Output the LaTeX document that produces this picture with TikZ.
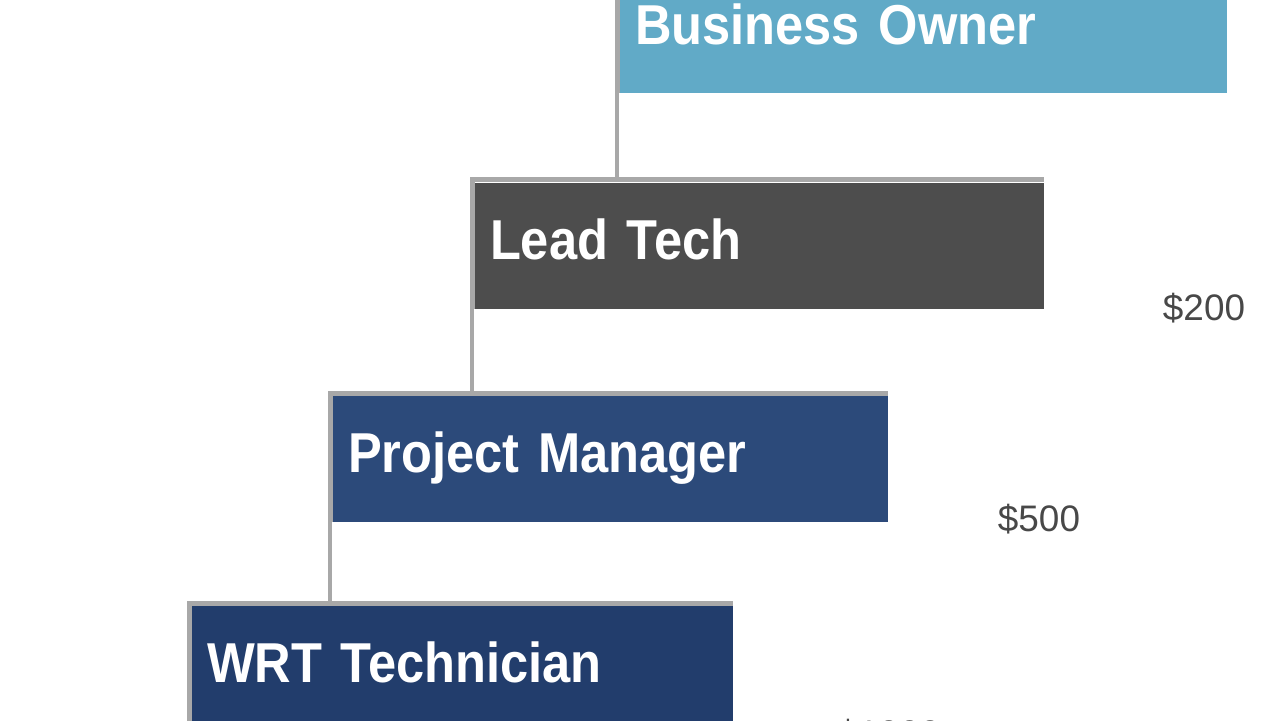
\documentclass[tikz,border=0pt]{standalone}
\usepackage{fontspec}
\setmainfont{Liberation Sans}
\newfontfamily\tierfont{Liberation Sans}[FakeStretch=0.9]
\newcommand\tiertext{\tierfont\bfseries\fontsize{32}{36}\selectfont\spaceskip=0.15em\relax}
\usetikzlibrary{calc}

\begin{document}
\begin{tikzpicture}[tier/.style={
      rectangle,
      draw=none,
      text=white,
      align=left,
      inner xsep=0.3cm,
      minimum height=2.52cm,
      text height=0.85cm,
      text depth=0.3cm,
      font=\tiertext
    },
    frame/.style={-,line width=0.1cm,lgray},
    link/.style={-,line width=0.08cm,lgray},
    cost/.style={draw=none,text=dgray,font=\fontsize{21}{24}\selectfont}]

\definecolor{lgray}{RGB}{168,168,168}
\definecolor{dgray}{RGB}{72,72,72}
\definecolor{sky}{RGB}{97,170,199}
\definecolor{slate}{RGB}{77,77,77}
\definecolor{navy}{RGB}{44,74,122}
\definecolor{dnavy}{RGB}{34,61,108}

\useasboundingbox (0,0) rectangle (25.6,-14.4);

\node[tier,fill=sky,minimum width=12.14cm,text width=11.54cm,minimum height=2.48cm] (bo) at (18.47,-0.62) {Business Owner};
\node[tier,fill=slate,minimum width=11.38cm,text width=10.78cm] (lt) at (15.19,-4.91) {Lead Tech};
\node[tier,fill=navy,minimum width=11.1cm,text width=10.5cm] (pm) at (12.21,-9.18) {Project Manager};
\node[tier,fill=dnavy,minimum width=10.82cm,text width=10.22cm] (wt) at (9.25,-13.38) {WRT Technician};

\draw[frame] ([xshift=-.05cm]bo.south west) -- ([xshift=-.05cm]bo.north west);
\draw[frame] ([xshift=-.05cm]lt.south west) |- ([yshift=.05cm]lt.north east);
\draw[frame] ([xshift=-.05cm]pm.south west) |- ([yshift=.05cm]pm.north east);
\draw[frame] ([xshift=-.05cm]wt.south west) |- ([yshift=.05cm]wt.north east);

\draw[link] ([xshift=-.05cm]bo.south west) -- ([xshift=-.05cm]bo.south west |- lt.north);
\draw[link] ([xshift=-.05cm]lt.south west) -- ([xshift=-.05cm]lt.south west |- pm.north);
\draw[link] ([xshift=-.05cm]pm.south west) -- ([xshift=-.05cm]pm.south west |- wt.north);

\node[cost] (c200) at (24.08,-6.16) {\$200};
\node[cost] (c500) at (20.78,-10.38) {\$500};
\node[cost] (c1000) at (17.78,-14.68) {\$1000};

\end{tikzpicture}
\end{document}
